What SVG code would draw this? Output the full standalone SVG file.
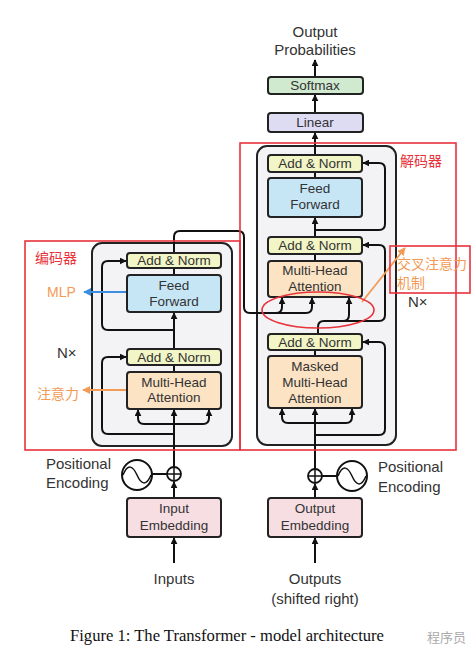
<svg xmlns="http://www.w3.org/2000/svg" width="474" height="653" viewBox="0 0 474 653">
<defs>
<marker id="ah" viewBox="0 0 10 10" refX="9" refY="5" markerWidth="7" markerHeight="7" markerUnits="userSpaceOnUse" orient="auto"><path d="M0,0 L10,5 L0,10 Z" fill="#111"/></marker>
<marker id="ahb" viewBox="0 0 10 10" refX="9" refY="5" markerWidth="8" markerHeight="8" markerUnits="userSpaceOnUse" orient="auto"><path d="M0,0 L10,5 L0,10 Z" fill="#3b8fe0"/></marker>
<marker id="aho" viewBox="0 0 10 10" refX="9" refY="5" markerWidth="8" markerHeight="8" markerUnits="userSpaceOnUse" orient="auto"><path d="M0,0 L10,5 L0,10 Z" fill="#f39a55"/></marker>
</defs>
<style>
.t{font-family:"Liberation Sans",Arial,sans-serif;font-size:13.5px;fill:#333;text-anchor:middle}
.tl{font-family:"Liberation Sans",Arial,sans-serif;font-size:15px;fill:#333}
.tc{font-family:"Liberation Sans",Arial,sans-serif;font-size:15px;fill:#333;text-anchor:middle}
.box{stroke:#222;stroke-width:2}
.an{fill:#f2f5c6}
.ff{fill:#c6e6f6}
.mh{fill:#fce3c4}
.em{fill:#f7dee3}
.sm{fill:#d0ead0}
.li{fill:#dedcf3}
.stack{fill:#f3f3f5;stroke:#222;stroke-width:2}
.ln{fill:none;stroke:#111;stroke-width:2}
.red{fill:none;stroke:#e8333c;stroke-width:1.6}
.cn{font-family:"Liberation Sans","Noto Sans CJK SC",sans-serif;font-size:14px}
</style>
<rect width="474" height="653" fill="#fff"/>

<g id="encoder-stack"><rect x="92" y="243" width="140" height="203" rx="10" class="stack"/></g>
<g id="decoder-stack"><rect x="257" y="146" width="139" height="299" rx="10" class="stack"/></g>

<g id="connectors">
<!-- encoder -->
<path class="ln" d="M174,563 V538" marker-end="url(#ah)"/>
<path class="ln" d="M174,498 V482" marker-end="url(#ah)"/>
<path class="ln" d="M174,467 V410" marker-end="url(#ah)"/>
<path class="ln" d="M174,424 H144 Q138,424 138,418 V410" marker-end="url(#ah)"/>
<path class="ln" d="M174,424 H203 Q209,424 209,418 V410" marker-end="url(#ah)"/>
<path class="ln" d="M174,434 H108 Q102,434 102,428 V363 Q102,357 108,357 H126" marker-end="url(#ah)"/>
<path class="ln" d="M174,372 V365"/>
<path class="ln" d="M174,349 V313" marker-end="url(#ah)"/>
<path class="ln" d="M174,330 H108 Q102,330 102,324 V267 Q102,261 108,261 H126" marker-end="url(#ah)"/>
<path class="ln" d="M174,275 V268"/>
<path class="ln" d="M174,253 V237 Q174,231 180,231 H238 Q244,231 244,237 V307 Q244,313 250,313 H276 Q282,313 282,307 V298" marker-end="url(#ah)"/>
<path class="ln" d="M276,313 H306 Q312,313 312,307 V298" marker-end="url(#ah)"/>
<!-- decoder -->
<path class="ln" d="M315,563 V538" marker-end="url(#ah)"/>
<path class="ln" d="M315,498 V484" marker-end="url(#ah)"/>
<path class="ln" d="M315,469 V409" marker-end="url(#ah)"/>
<path class="ln" d="M315,423 H288 Q282,423 282,417 V409" marker-end="url(#ah)"/>
<path class="ln" d="M315,423 H346 Q352,423 352,417 V409" marker-end="url(#ah)"/>
<path class="ln" d="M315,435 H379 Q385,435 385,429 V348 Q385,342 379,342 H363" marker-end="url(#ah)"/>
<path class="ln" d="M315,356 V350"/>
<path class="ln" d="M318,334 V327 Q318,321 324,321 H343 Q349,321 349,315 V298" marker-end="url(#ah)"/>
<path class="ln" d="M343,321 H379 Q385,321 385,315 V251 Q385,245 379,245 H363" marker-end="url(#ah)"/>
<path class="ln" d="M315,261 V254"/>
<path class="ln" d="M315,237 V218" marker-end="url(#ah)"/>
<path class="ln" d="M315,230 H379 Q385,230 385,224 V169 Q385,163 379,163 H363" marker-end="url(#ah)"/>
<path class="ln" d="M315,178 V172"/>
<path class="ln" d="M315,155 V133" marker-end="url(#ah)"/>
<path class="ln" d="M315,113 V95" marker-end="url(#ah)"/>
<path class="ln" d="M315,77 V60" marker-end="url(#ah)"/>
<!-- positional encoding links -->
<path class="ln" d="M152,474 H167"/>
<path class="ln" d="M322,476 H337"/>
<!-- annotation arrows -->
<path d="M127,292 H84" fill="none" stroke="#3b8fe0" stroke-width="2" marker-end="url(#ahb)"/>
<path d="M127,390 H83" fill="none" stroke="#f39a55" stroke-width="2" marker-end="url(#aho)"/>
<path d="M362,302 L405,248" fill="none" stroke="#f39a55" stroke-width="1.8" marker-end="url(#aho)"/>
</g>

<g id="enc-addnorm2"><rect x="127" y="253" width="94" height="15" rx="3" class="box an"/><text x="174" y="265" class="t">Add &amp; Norm</text></g>
<g id="enc-ff"><rect x="127" y="275" width="94" height="37" rx="3" class="box ff"/><text x="174" y="290" class="t">Feed</text><text x="174" y="306" class="t">Forward</text></g>
<g id="enc-addnorm1"><rect x="127" y="349" width="94" height="16" rx="3" class="box an"/><text x="174" y="362" class="t">Add &amp; Norm</text></g>
<g id="enc-mha"><rect x="127" y="372" width="94" height="37" rx="3" class="box mh"/><text x="174" y="387" class="t">Multi-Head</text><text x="174" y="402" class="t">Attention</text></g>
<g id="input-embedding"><rect x="127" y="498" width="94" height="39" rx="3" class="box em"/><text x="174" y="513" class="t">Input</text><text x="174" y="530" class="t">Embedding</text></g>

<g id="dec-addnorm3"><rect x="268" y="155" width="94" height="17" rx="3" class="box an"/><text x="315" y="168" class="t">Add &amp; Norm</text></g>
<g id="dec-ff"><rect x="268" y="178" width="94" height="39" rx="3" class="box ff"/><text x="315" y="193" class="t">Feed</text><text x="315" y="209" class="t">Forward</text></g>
<g id="dec-addnorm2"><rect x="268" y="237" width="94" height="17" rx="3" class="box an"/><text x="315" y="250" class="t">Add &amp; Norm</text></g>
<g id="dec-mha"><rect x="268" y="261" width="94" height="36" rx="3" class="box mh"/><text x="315" y="275" class="t">Multi-Head</text><text x="315" y="291" class="t">Attention</text></g>
<g id="dec-addnorm1"><rect x="268" y="334" width="94" height="16" rx="3" class="box an"/><text x="315" y="347" class="t">Add &amp; Norm</text></g>
<g id="dec-masked"><rect x="268" y="356" width="94" height="52" rx="3" class="box mh"/><text x="315" y="371" class="t">Masked</text><text x="315" y="387" class="t">Multi-Head</text><text x="315" y="403" class="t">Attention</text></g>
<g id="output-embedding"><rect x="268" y="498" width="94" height="39" rx="3" class="box em"/><text x="315" y="513" class="t">Output</text><text x="315" y="530" class="t">Embedding</text></g>

<g id="linear"><rect x="268" y="113" width="95" height="19" rx="3" class="box li"/><text x="315" y="127" class="t">Linear</text></g>
<g id="softmax"><rect x="268" y="77" width="95" height="17" rx="3" class="box sm"/><text x="315" y="90" class="t">Softmax</text></g>
<g id="output-probs"><text x="315" y="37" class="tc">Output</text><text x="315" y="55" class="tc">Probabilities</text></g>

<g id="enc-pe">
<circle cx="137" cy="475" r="15" fill="#fff" stroke="#111" stroke-width="2"/>
<path d="M123,475 C128,463 133,466 137,475 C141,484 146,487 151,475" fill="none" stroke="#111" stroke-width="1.5"/>
<circle cx="174" cy="474" r="7" fill="#fff" stroke="#111" stroke-width="1.8"/>
<path d="M167,474 H181 M174,467 V481" stroke="#111" stroke-width="1.5"/>
<text x="46" y="469" class="tl">Positional</text><text x="46" y="488" class="tl">Encoding</text>
</g>
<g id="dec-pe">
<circle cx="352" cy="476" r="15" fill="#fff" stroke="#111" stroke-width="2"/>
<path d="M338,476 C343,464 348,467 352,476 C356,485 361,488 366,476" fill="none" stroke="#111" stroke-width="1.5"/>
<circle cx="315" cy="476" r="7" fill="#fff" stroke="#111" stroke-width="1.8"/>
<path d="M308,476 H322 M315,469 V483" stroke="#111" stroke-width="1.5"/>
<text x="378" y="472" class="tl">Positional</text><text x="378" y="492" class="tl">Encoding</text>
</g>

<g id="inputs"><text x="174" y="584" class="tc">Inputs</text></g>
<g id="outputs"><text x="315" y="584" class="tc">Outputs</text><text x="315" y="604" class="tc">(shifted right)</text></g>
<g id="nx"><text x="57" y="358" class="tl">N×</text><text x="408" y="307" class="tl">N×</text></g>

<g id="annotations">
<rect x="25" y="241" width="215" height="209" class="red"/>
<rect x="240" y="143" width="216" height="307" class="red"/>
<rect x="390" y="246" width="80" height="47" class="red"/>
<ellipse cx="318" cy="310" rx="56" ry="18" class="red"/>
<text x="35" y="263" class="cn" fill="#e8333c">编码器</text>
<text x="400" y="166" class="cn" fill="#e8333c">解码器</text>
<text x="47" y="297" class="cn" fill="#f39a55">MLP</text>
<text x="37" y="399" class="cn" fill="#f39a55">注意力</text>
<text x="397" y="269" class="cn" fill="#f39a55">交叉注意力</text>
<text x="397" y="288" class="cn" fill="#f39a55">机制</text>
</g>

<g id="caption">
<text x="70" y="641" font-family="Liberation Serif,Times New Roman,serif" font-size="16.6" fill="#111">Figure 1: The Transformer - model architecture</text>
<text x="427" y="642" font-family="Liberation Sans,Noto Sans CJK SC,sans-serif" font-size="13" fill="#aaa">程序员</text>
</g>
</svg>
